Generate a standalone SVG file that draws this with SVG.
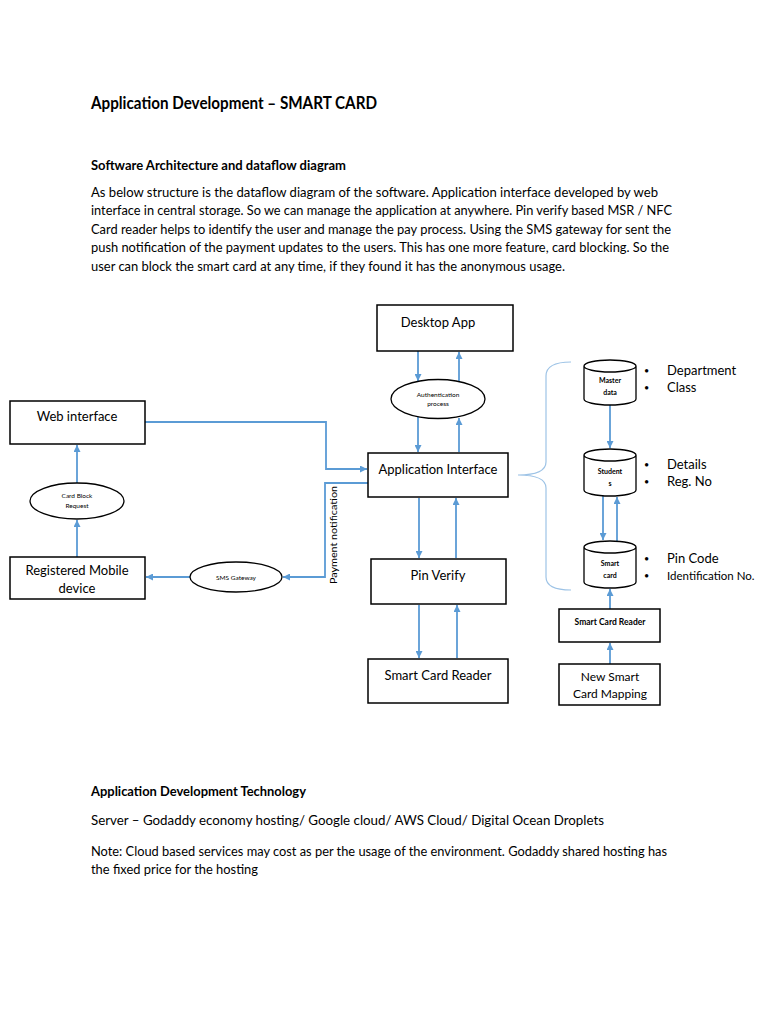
<svg xmlns="http://www.w3.org/2000/svg" width="768" height="1024" viewBox="0 0 768 1024">
<defs>
<marker id="ah" viewBox="0 0 10 10" refX="10" refY="5" markerWidth="7" markerHeight="7" markerUnits="userSpaceOnUse" orient="auto">
<path d="M0 0 L10 5 L0 10 Z" fill="#5B9BD5"/>
</marker>
<style>
text{font-family:Lato,"Open Sans","Liberation Sans",sans-serif;fill:#000}
.box{fill:#fff;stroke:#000;stroke-width:1.5}
.ell{fill:#fff;stroke:#000;stroke-width:1.3}
.cyl{fill:#fff;stroke:#000;stroke-width:1.3}
.con{fill:none;stroke:#5B9BD5;stroke-width:1.8;marker-end:url(#ah)}
.lbl{font-size:13px;text-anchor:middle}
.tiny{font-size:6.5px;text-anchor:middle}
.cy{font-size:7px;font-weight:bold;text-anchor:middle}
.bul{font-size:13px}
.dot{font-size:9px}
.para{font-size:13.5px}
</style>
</defs>
<rect width="768" height="1024" fill="#fff"/>

<g id="header">
<text x="91" y="109" font-size="16.5" font-weight="bold" textLength="286" lengthAdjust="spacingAndGlyphs">Application Development – SMART CARD</text>
<text x="91" y="170" font-size="13.5" font-weight="bold" textLength="255" lengthAdjust="spacingAndGlyphs">Software Architecture and dataflow diagram</text>
<text class="para" x="91" y="197" textLength="567" lengthAdjust="spacingAndGlyphs">As below structure is the dataflow diagram of the software. Application interface developed by web</text>
<text class="para" x="91" y="215" textLength="581" lengthAdjust="spacingAndGlyphs">interface in central storage. So we can manage the application at anywhere. Pin verify based MSR / NFC</text>
<text class="para" x="91" y="234" textLength="580" lengthAdjust="spacingAndGlyphs">Card reader helps to identify the user and manage the pay process. Using the SMS gateway for sent the</text>
<text class="para" x="91" y="252" textLength="578" lengthAdjust="spacingAndGlyphs">push notification of the payment updates to the users. This has one more feature, card blocking. So the</text>
<text class="para" x="91" y="271" textLength="474" lengthAdjust="spacingAndGlyphs">user can block the smart card at any time, if they found it has the anonymous usage.</text>
</g>

<g id="connectors">
<path class="con" d="M418 351 V381"/>
<path class="con" d="M459 382 V352"/>
<path class="con" d="M418 417 V452"/>
<path class="con" d="M459 452 V418"/>
<path class="con" d="M145 422 H326 V469 H367"/>
<path class="con" d="M368 483 H325 V577 H283"/>
<path class="con" d="M190 577 H146"/>
<path class="con" d="M77 557 V520"/>
<path class="con" d="M77 483 V445"/>
<path class="con" d="M419 498 V558"/>
<path class="con" d="M456 558 V498"/>
<path class="con" d="M419 605 V658"/>
<path class="con" d="M457 658 V605"/>
<path class="con" d="M610 405 V448"/>
<path class="con" d="M603 496 V540"/>
<path class="con" d="M617 541 V497"/>
<path class="con" d="M610 609 V589"/>
<path class="con" d="M610 664 V643"/>
<path d="M571 362 Q546 362 546 376 L546 462 Q546 475 518 475 Q546 475 546 488 L546 577 Q546 590 571 590" fill="none" stroke="#9DC3E6" stroke-width="1.2"/>
<text x="337" y="535" font-size="9.5" text-anchor="middle" transform="rotate(-90 337 535)" textLength="98" lengthAdjust="spacingAndGlyphs">Payment notification</text>
</g>

<g id="desktop-app">
<rect class="box" x="377" y="305" width="136" height="46"/>
<text class="lbl" x="438" y="327">Desktop App</text>
</g>
<g id="authentication">
<ellipse class="ell" cx="438" cy="399" rx="47" ry="19.5"/>
<text class="tiny" x="438" y="397">Authentication</text>
<text class="tiny" x="438" y="406">process</text>
</g>
<g id="application-interface">
<rect class="box" x="368" y="453" width="140" height="44"/>
<text class="lbl" x="438" y="474">Application Interface</text>
</g>
<g id="web-interface">
<rect class="box" x="10" y="401" width="135" height="43"/>
<text class="lbl" x="77" y="421">Web interface</text>
</g>
<g id="card-block">
<ellipse class="ell" cx="77" cy="501" rx="47" ry="18"/>
<text class="tiny" x="77" y="498">Card Block</text>
<text class="tiny" x="77" y="508">Request</text>
</g>
<g id="mobile">
<rect class="box" x="10" y="557" width="135" height="42"/>
<text class="lbl" x="77" y="575">Registered Mobile</text>
<text class="lbl" x="77" y="593">device</text>
</g>
<g id="sms-gateway">
<ellipse class="ell" cx="236" cy="577" rx="46" ry="15"/>
<text class="tiny" x="236" y="580">SMS Gateway</text>
</g>
<g id="pin-verify">
<rect class="box" x="371" y="559" width="135" height="45"/>
<text class="lbl" x="438" y="580">Pin Verify</text>
</g>
<g id="smart-card-reader">
<rect class="box" x="368" y="659" width="140" height="44"/>
<text class="lbl" x="438" y="680">Smart Card Reader</text>
</g>

<g id="master-data">
<path class="cyl" d="M584 366 A26 6 0 0 1 636 366 V399 A26 6 0 0 1 584 399 Z M584 366 A26 6 0 0 0 636 366"/>
<text class="cy" x="610" y="383">Master</text>
<text class="cy" x="610" y="395">data</text>
<text class="dot" x="644" y="374">•</text>
<text class="bul" x="667" y="375">Department</text>
<text class="dot" x="644" y="391">•</text>
<text class="bul" x="667" y="392">Class</text>
</g>
<g id="students">
<path class="cyl" d="M584 455 A26 6 0 0 1 636 455 V490 A26 6 0 0 1 584 490 Z M584 455 A26 6 0 0 0 636 455"/>
<text class="cy" x="610" y="474">Student</text>
<text class="cy" x="610" y="486">s</text>
<text class="dot" x="644" y="468">•</text>
<text class="bul" x="667" y="469">Details</text>
<text class="dot" x="644" y="485">•</text>
<text class="bul" x="667" y="486">Reg. No</text>
</g>
<g id="smart-card">
<path class="cyl" d="M584 547 A26 6 0 0 1 636 547 V582 A26 6 0 0 1 584 582 Z M584 547 A26 6 0 0 0 636 547"/>
<text class="cy" x="610" y="566">Smart</text>
<text class="cy" x="610" y="578">card</text>
<text class="dot" x="644" y="562">•</text>
<text class="bul" x="667" y="563">Pin Code</text>
<text class="dot" x="644" y="579">•</text>
<text x="667" y="580" font-size="11.5">Identification No.</text>
</g>
<g id="scr-small">
<rect class="box" x="559" y="609" width="101" height="33"/>
<text x="610" y="625" font-size="8.5" font-weight="bold" text-anchor="middle">Smart Card Reader</text>
</g>
<g id="new-mapping">
<rect class="box" x="559" y="664" width="101" height="41"/>
<text x="610" y="681" font-size="12" text-anchor="middle">New Smart</text>
<text x="610" y="698" font-size="12" text-anchor="middle">Card Mapping</text>
</g>

<g id="footer">
<text x="91" y="796" font-size="13.5" font-weight="bold" textLength="215" lengthAdjust="spacingAndGlyphs">Application Development Technology</text>
<text class="para" x="91" y="825" textLength="513" lengthAdjust="spacingAndGlyphs">Server – Godaddy economy hosting/ Google cloud/ AWS Cloud/ Digital Ocean Droplets</text>
<text class="para" x="91" y="856" textLength="576" lengthAdjust="spacingAndGlyphs">Note: Cloud based services may cost as per the usage of the environment. Godaddy shared hosting has</text>
<text class="para" x="91" y="874" textLength="167" lengthAdjust="spacingAndGlyphs">the fixed price for the hosting</text>
</g>
</svg>
